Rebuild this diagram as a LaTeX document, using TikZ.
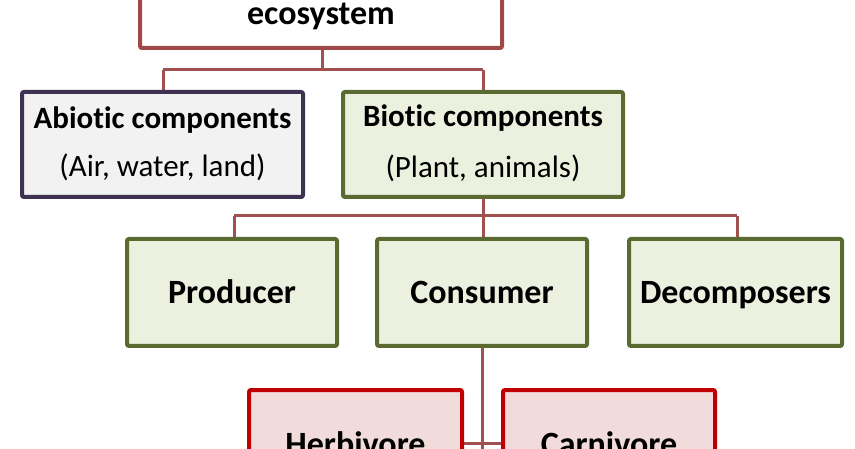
\documentclass[tikz,border=0pt]{standalone}
\usepackage{fontspec}
\setmainfont{Carlito}[Ligatures={NoCommon}]
\definecolor{conn}{HTML}{A0504F}
\definecolor{redb}{HTML}{A04848}
\definecolor{purb}{HTML}{3F3151}
\definecolor{grnb}{HTML}{5A6A30}
\definecolor{grnf}{HTML}{EBF1DE}
\definecolor{gryf}{HTML}{F2F2F2}
\definecolor{crb}{HTML}{C00000}
\definecolor{crf}{HTML}{F2DCDB}
\begin{document}
\begin{tikzpicture}[x=1pt,y=-1pt,
  box/.style={draw,line width=4pt,rounded corners=2pt,inner sep=0pt,align=center},
  big/.style={font=\fontsize{34}{40}\selectfont\bfseries,anchor=base},
  conline/.style={draw=conn,line width=3pt}]
\useasboundingbox (0,0) rectangle (855,449);
\clip (0,0) rectangle (855,449);
\draw[conline] (322,48) -- (322,70) (163,70) -- (483,70) (163,70) -- (163,92) (483,70) -- (483,92);
\draw[conline] (483,197) -- (483,216) (234,216) -- (737,216) (234,216) -- (234,239) (483,216)--(483,239) (737,216) -- (737,239);
\draw[conline] (482,346) -- (482,460) (462,443) -- (503,443);
\node[box,draw=redb,fill=white,minimum width=362pt,minimum height=100pt] (eco) at (321,-2) {};
\node[big] (ecot) at (321,25) {ecosystem};
\node[box,draw=purb,fill=gryf,minimum width=281pt,minimum height=105pt] (abio) at (162.5,144.5) {};
\node[font=\fontsize{31}{48}\selectfont\bfseries] at (162.5,120) {Abiotic components};
\node[font=\fontsize{31}{48}\selectfont] at (162.5,167) {(Air, water, land)};
\node[box,draw=grnb,fill=grnf,minimum width=280pt,minimum height=105pt] (bio) at (483,144.5) {};
\node[font=\fontsize{31}{48}\selectfont\bfseries] at (483,118) {Biotic components};
\node[font=\fontsize{31}{48}\selectfont] at (483,168) {(Plant, animals)};
\node[box,draw=grnb,fill=grnf,minimum width=210pt,minimum height=107pt] (prod) at (232,292.5) {};
\node[big] at (232,304) {Producer};
\node[box,draw=grnb,fill=grnf,minimum width=210pt,minimum height=107pt] (cons) at (482,292.5) {};
\node[big] at (482,304) {Consumer};
\node[box,draw=grnb,fill=grnf,minimum width=213pt,minimum height=107pt] (deco) at (735.5,292.5) {};
\node[big] at (735.5,304) {Decomposers};
\node[box,draw=crb,fill=crf,minimum width=213pt,minimum height=107pt] (herb) at (355.5,443.5) {};
\node[big] at (355.5,455) {Herbivore};
\node[box,draw=crb,fill=crf,minimum width=212pt,minimum height=107pt] (carn) at (609,443.5) {};
\node[big] at (609,455) {Carnivore};
\end{tikzpicture}
\end{document}
